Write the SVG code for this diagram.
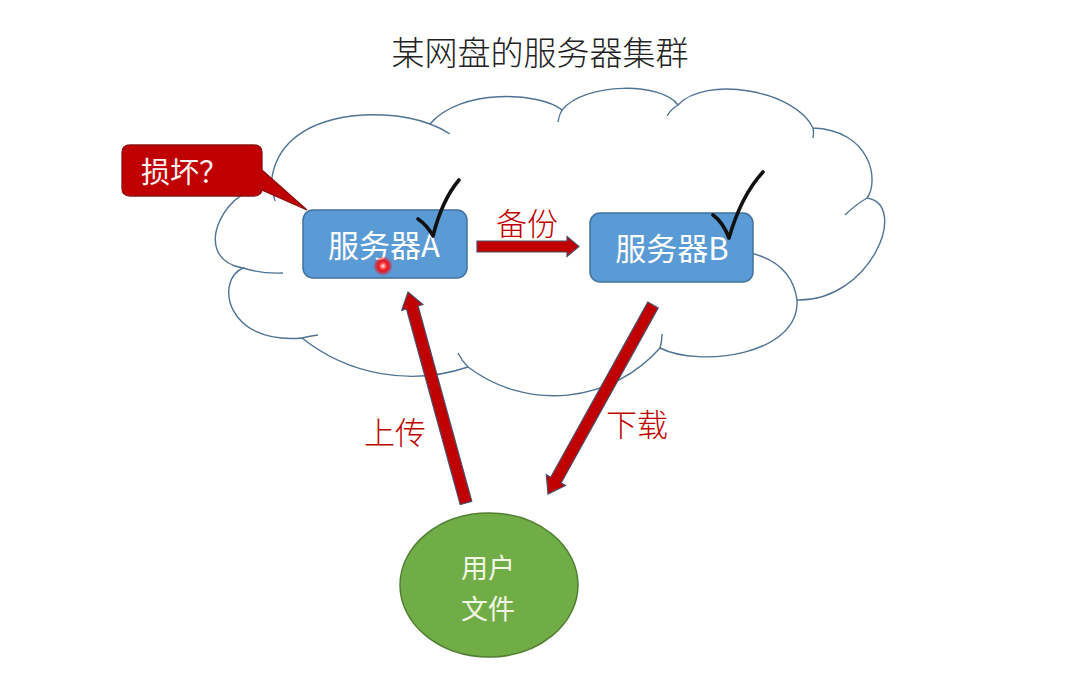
<svg xmlns="http://www.w3.org/2000/svg" width="1079" height="688" viewBox="0 0 1079 688">
  <defs>
    <radialGradient id="laser" cx="0.5" cy="0.5" r="0.5">
      <stop offset="0" stop-color="#fff4f4"/>
      <stop offset="0.25" stop-color="#ff6060"/>
      <stop offset="0.5" stop-color="#ff0000" stop-opacity="0.9"/>
      <stop offset="1" stop-color="#ff0000" stop-opacity="0"/>
    </radialGradient>
  </defs>
  <style>
    .cloud { fill: #ffffff; stroke: #4f7394; stroke-width: 1.4; }
    .tick { fill: none; stroke: #4f7394; stroke-width: 1.4; }
    .server { fill: #5b9bd5; stroke: #41719c; stroke-width: 1.5; }
    .srvtext { font-family: "Noto Sans CJK SC", "Noto Sans", sans-serif; font-size: 31px; fill: #ffffff; text-anchor: middle; dominant-baseline: central; }
    .arrow { fill: #c00000; stroke: #4d4d6b; stroke-width: 1.2; stroke-linejoin: miter; }
    .label { font-family: "Noto Sans CJK SC", sans-serif; font-weight: 300; font-size: 31px; fill: #c00000; text-anchor: middle; dominant-baseline: central; }
    .check { fill: none; stroke: #111111; stroke-width: 3.6; stroke-linecap: round; stroke-linejoin: round; }
    .user { font-family: "Noto Sans CJK SC", sans-serif; font-size: 27px; fill: #f2f6e4; text-anchor: middle; dominant-baseline: central; }
  </style>
  <rect width="1079" height="688" fill="#ffffff"/>

  <text x="540" y="51" font-family="Noto Sans CJK SC, sans-serif" font-weight="300" font-size="33" fill="#222222" text-anchor="middle" dominant-baseline="central">某网盘的服务器集群</text>

  <g id="cloud">
    <path class="cloud" d="M271,189 C230,178 185,258 243,268 C215,280 225,345 302,338 A176,176 0 0 0 468,367 A142,142 0 0 0 660,348 C700,368 800,355 797,300 C870,302 910,205 867,198 C880,180 870,130 813,128 C795,90 705,75 678,105 C662,82 585,82 562,110 C540,92 460,88 430,124 C380,105 272,110 271,189 Z"/>
    <path class="tick" d="M271,189 Q274,195 275,201 M243,268 Q262,274 283,273 M302,338 Q310,336 318,335 M468,367 Q462,361 458,353 M660,348 Q662,342 662,334 M797,300 Q792,262 747,252 M867,198 Q855,205 845,215 M813,128 Q814,132 813,138 M678,105 Q671,109 667,116 M562,110 Q559,115 558,122 M430,124 Q441,128 450,134"/>
  </g>

  <g id="callout">
    <path d="M130,145 H254 Q262,145 262,153 V170 L307,210 L262,190 V188 Q262,196 254,196 H130 Q122,196 122,188 V153 Q122,145 130,145 Z" fill="#c00000" stroke="#8a1010" stroke-width="1.3"/>
    <text x="141" y="170" font-family="Noto Sans CJK SC, sans-serif" font-size="29" fill="#fff2f2" dominant-baseline="central">损坏？</text>
  </g>

  <g id="serverA">
    <rect class="server" x="303" y="210" width="164" height="68" rx="10"/>
    <text class="srvtext" x="384" y="243">服务器A</text>
  </g>

  <g id="serverB">
    <rect class="server" x="590" y="213" width="163" height="69" rx="10"/>
    <text class="srvtext" x="672" y="246">服务器B</text>
  </g>

  <g id="userFile">
    <ellipse cx="489" cy="585" rx="89" ry="72" fill="#70ad47" stroke="#507e32" stroke-width="1.5"/>
    <text class="user" x="488" y="566">用户</text>
    <text class="user" x="488" y="607">文件</text>
  </g>

  <g id="connectors">
    <polygon class="arrow" points="477,241 567,241 567,236.5 579,246.5 567,256.5 567,252 477,252"/>
    <text class="label" x="527" y="221">备份</text>
    <polygon class="arrow" points="460.2,504.6 406.5,309 401.7,310.3 408,292 422.9,304.5 418.1,305.8 471.8,501.4"/>
    <text class="label" x="395" y="430">上传</text>
    <polygon class="arrow" points="658.2,307.9 561.1,483 565.5,485.5 548,494 546.3,474.7 550.7,477.2 647.8,302.1"/>
    <text class="label" x="637" y="422">下载</text>
  </g>

  <g id="marks">
    <path class="check" d="M418,219 Q427,225 433,236 Q442,200 459,180"/>
    <path class="check" d="M713,215 Q723,222 729,238 Q741,196 763,172"/>
    <circle cx="383" cy="266" r="10" fill="url(#laser)"/>
  </g>
</svg>
